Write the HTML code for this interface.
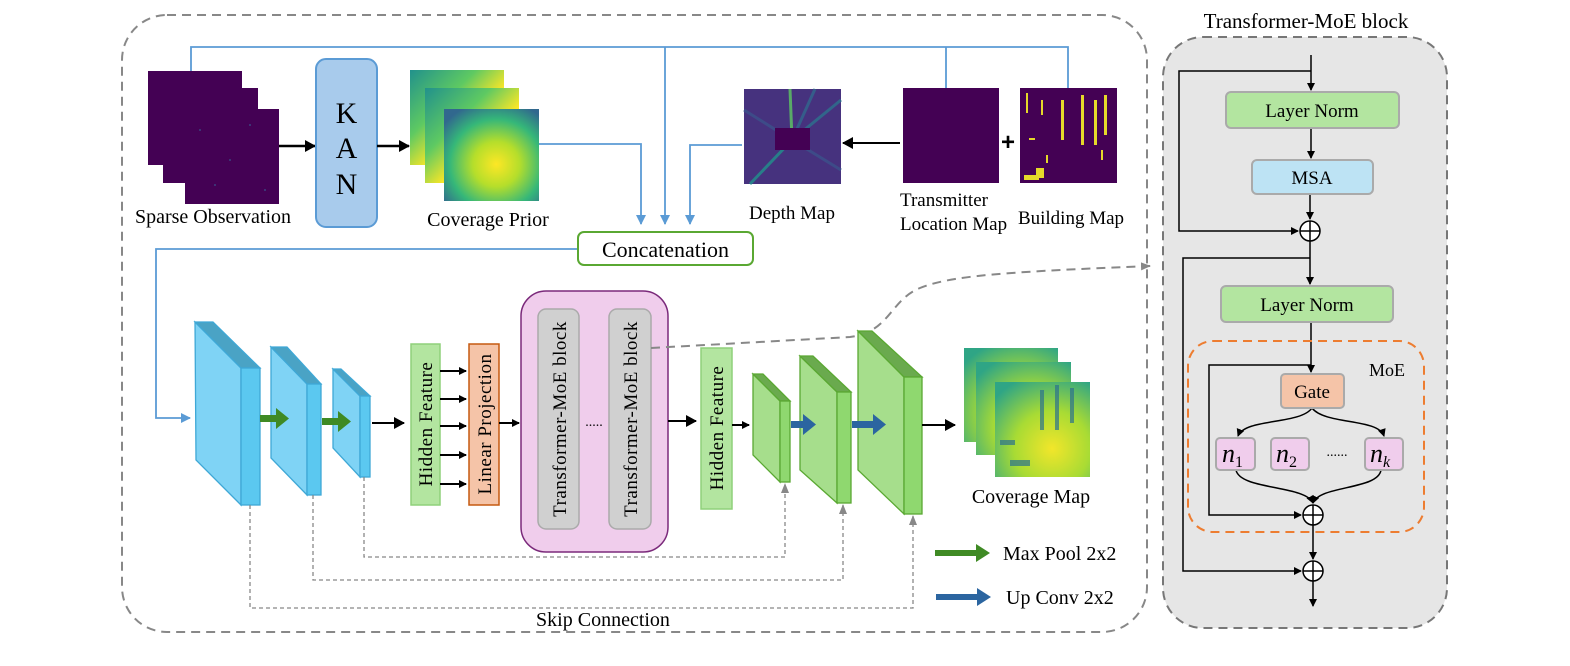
<!DOCTYPE html>
<html><head><meta charset="utf-8"><style>
html,body{margin:0;padding:0;background:#fff;}
svg{display:block;font-family:"Liberation Serif",serif;}
</style></head><body>
<svg width="1570" height="666" viewBox="0 0 1570 666" xmlns="http://www.w3.org/2000/svg">
<defs>
<marker id="ab" markerWidth="8" markerHeight="8" refX="7" refY="4" orient="auto" markerUnits="userSpaceOnUse"><path d="M0,0 L8,4 L0,8 z" fill="#000"/></marker>
<marker id="abb" markerWidth="12" markerHeight="12" refX="10" refY="6" orient="auto" markerUnits="userSpaceOnUse"><path d="M0,0 L11,6 L0,12 z" fill="#000"/></marker>
<marker id="au" markerWidth="10" markerHeight="10" refX="9" refY="5" orient="auto" markerUnits="userSpaceOnUse"><path d="M0,0 L10,5 L0,10 z" fill="#5b9bd5"/></marker>
<marker id="ag" markerWidth="10" markerHeight="10" refX="9" refY="5" orient="auto" markerUnits="userSpaceOnUse"><path d="M0,1 L10,5 L0,9 z" fill="#888"/></marker>
<linearGradient id="cov" x1="0" y1="0" x2="1" y2="1">
<stop offset="0" stop-color="#21918c"/><stop offset="0.35" stop-color="#5ec962"/><stop offset="0.6" stop-color="#fde725"/><stop offset="0.85" stop-color="#7ad151"/><stop offset="1" stop-color="#3b528b"/></linearGradient>
<radialGradient id="cov2" cx="0.55" cy="0.6" r="0.7"><stop offset="0" stop-color="#fde725"/><stop offset="0.35" stop-color="#b5de2b"/><stop offset="0.7" stop-color="#35b779"/><stop offset="1" stop-color="#31688e"/></radialGradient>
<radialGradient id="cm" cx="0.6" cy="0.7" r="0.8"><stop offset="0" stop-color="#f2e62a"/><stop offset="0.5" stop-color="#a8db34"/><stop offset="1" stop-color="#2fa585"/></radialGradient>
</defs>

<rect x="122" y="15" width="1025" height="617" rx="45" fill="none" stroke="#888" stroke-width="2" stroke-dasharray="9,6"/>
<rect x="1163" y="37" width="284" height="591" rx="40" fill="#e6e6e6" stroke="#777" stroke-width="2" stroke-dasharray="9,6"/>
<text x="1306" y="28" font-size="21" text-anchor="middle">Transformer-MoE block</text>

<g stroke="#5b9bd5" stroke-width="1.8" fill="none">
<path d="M191,71 V47 H1068 V88"/>
<path d="M946,47 V88"/>
<path d="M665,47 V224" marker-end="url(#au)"/>
<path d="M539,144 H641 V224" marker-end="url(#au)"/>
<path d="M742,145 H690 V224" marker-end="url(#au)"/>
<path d="M578,249 H156 V418 H190" marker-end="url(#au)"/>
</g>

<rect x="148" y="71" width="94" height="94" fill="#440154"/>
<rect x="163" y="88" width="95" height="95" fill="#440154"/>
<rect x="185" y="109" width="94" height="95" fill="#440154"/>
<g fill="#3b528b" opacity="0.8"><circle cx="200" cy="130" r="1"/><circle cx="230" cy="160" r="1"/><circle cx="250" cy="125" r="1"/><circle cx="215" cy="185" r="1"/><circle cx="265" cy="190" r="1"/></g>
<text x="213" y="223" font-size="20" text-anchor="middle">Sparse Observation</text>
<line x1="279" y1="146" x2="315" y2="146" stroke="#000" stroke-width="2.5" marker-end="url(#abb)"/>
<rect x="316" y="59" width="61" height="168" rx="10" fill="#a8cbec" stroke="#5b9bd5" stroke-width="2"/>
<text x="346.5" y="123" font-size="30" text-anchor="middle">K</text>
<text x="346.5" y="158" font-size="30" text-anchor="middle">A</text>
<text x="346.5" y="194" font-size="30" text-anchor="middle">N</text>
<line x1="377" y1="146" x2="409" y2="146" stroke="#000" stroke-width="2.5" marker-end="url(#abb)"/>
<rect x="410" y="70" width="94" height="95" fill="url(#cov)"/>
<rect x="425" y="88" width="94" height="95" fill="url(#cov)"/>
<rect x="444" y="109" width="95" height="92" fill="url(#cov2)"/>
<text x="488" y="226" font-size="20" text-anchor="middle">Coverage Prior</text>

<rect x="744" y="89" width="97" height="95" fill="#46327e"/>
<g stroke-width="3" opacity="0.8">
<line x1="792" y1="140" x2="790" y2="89" stroke="#5ec962"/><line x1="792" y1="140" x2="744" y2="110" stroke="#3b528b"/>
<line x1="792" y1="140" x2="841" y2="100" stroke="#2c728e"/><line x1="792" y1="140" x2="750" y2="184" stroke="#21918c"/>
<line x1="792" y1="140" x2="841" y2="170" stroke="#3b528b"/><line x1="792" y1="140" x2="815" y2="89" stroke="#31688e"/>
</g>
<rect x="775" y="128" width="35" height="22" fill="#440154"/>
<text x="792" y="219" font-size="19" text-anchor="middle">Depth Map</text>
<line x1="900" y1="143" x2="843" y2="143" stroke="#000" stroke-width="2" marker-end="url(#abb)"/>
<rect x="903" y="88" width="96" height="95" fill="#440154"/>
<text x="1008" y="150" font-size="24" font-weight="bold" text-anchor="middle" font-family="Liberation Sans,sans-serif">+</text>
<rect x="1020" y="88" width="97" height="95" fill="#440154"/>
<g fill="#e5d82a">
<rect x="1061" y="100" width="3" height="40"/><rect x="1081" y="95" width="3" height="50"/><rect x="1094" y="100" width="3" height="45"/><rect x="1104" y="95" width="3" height="40"/><rect x="1026" y="93" width="2" height="20"/><rect x="1041" y="100" width="2" height="15"/><rect x="1024" y="175" width="15" height="5"/><rect x="1036" y="168" width="8" height="10"/><rect x="1046" y="155" width="2" height="8"/><rect x="1101" y="150" width="2" height="10"/><rect x="1029" y="138" width="6" height="2"/>
</g>
<text x="900" y="206" font-size="19">Transmitter</text>
<text x="900" y="230" font-size="19">Location Map</text>
<text x="1071" y="224" font-size="19" text-anchor="middle">Building Map</text>

<rect x="578" y="232" width="175" height="33" rx="6" fill="#fff" stroke="#5aa832" stroke-width="2"/>
<text x="665.5" y="257" font-size="22" text-anchor="middle">Concatenation</text>

<g stroke="#3fa8d6" stroke-width="1.3">
<polygon points="195,322 241,368 241,505 196,460" fill="#7fd3f5"/>
<polygon points="195,322 213,322 260,368 241,368" fill="#4aa3c5"/>
<rect x="241" y="368" width="19" height="137" fill="#5bc8f0"/>
<polygon points="271,347 307,384 307,495 271,458" fill="#7fd3f5"/>
<polygon points="271,347 287,347 321,384 307,384" fill="#4aa3c5"/>
<rect x="307" y="384" width="14" height="111" fill="#5bc8f0"/>
<polygon points="333,369 360,396 360,477 333,448" fill="#7fd3f5"/>
<polygon points="333,369 341,369 370,396 360,396" fill="#4aa3c5"/>
<rect x="360" y="396" width="10" height="81" fill="#5bc8f0"/>
</g>
<g fill="#3f8a24"><rect x="260" y="415" width="16" height="7"/><polygon points="276,408 289,418.5 276,429"/>
<rect x="322" y="418" width="16" height="7"/><polygon points="338,411 351,421.5 338,432"/></g>
<line x1="372" y1="423" x2="404" y2="423" stroke="#000" stroke-width="2" marker-end="url(#abb)"/>
<rect x="411" y="344" width="29" height="161" fill="#b3e5a0" stroke="#8fd07a" stroke-width="1.5"/>
<text transform="translate(432,424) rotate(-90)" font-size="19" text-anchor="middle" letter-spacing="0.5">Hidden Feature</text>
<g stroke="#000" stroke-width="2">
<line x1="440" y1="371" x2="466" y2="371" marker-end="url(#ab)"/>
<line x1="440" y1="399" x2="466" y2="399" marker-end="url(#ab)"/>
<line x1="440" y1="426" x2="466" y2="426" marker-end="url(#ab)"/>
<line x1="440" y1="455" x2="466" y2="455" marker-end="url(#ab)"/>
<line x1="440" y1="484" x2="466" y2="484" marker-end="url(#ab)"/>
</g>
<rect x="469" y="344" width="30" height="161" fill="#f5c4a8" stroke="#c55a11" stroke-width="1.5"/>
<text transform="translate(491,424) rotate(-90)" font-size="19" text-anchor="middle" letter-spacing="0.5">Linear Projection</text>
<line x1="499" y1="423" x2="519" y2="423" stroke="#000" stroke-width="2" marker-end="url(#ab)"/>
<rect x="521" y="291" width="147" height="261" rx="25" fill="#f0cdec" stroke="#7b2a7b" stroke-width="1.5"/>
<rect x="538" y="309" width="41" height="220" rx="8" fill="#d0d0d0" stroke="#aaa" stroke-width="1.5"/>
<rect x="609" y="309" width="42" height="220" rx="8" fill="#d0d0d0" stroke="#aaa" stroke-width="1.5"/>
<text transform="translate(566,419) rotate(-90)" font-size="19" text-anchor="middle" letter-spacing="0.5">Transformer-MoE block</text>
<text transform="translate(637,419) rotate(-90)" font-size="19" text-anchor="middle" letter-spacing="0.5">Transformer-MoE block</text>
<text x="594" y="426" font-size="14" text-anchor="middle">.....</text>
<path d="M651,348 L850,337 C890,332 890,300 920,288 C950,276 1000,272 1150,266" fill="none" stroke="#888" stroke-width="2" stroke-dasharray="9,6" marker-end="url(#ag)"/>
<line x1="668" y1="421" x2="696" y2="421" stroke="#000" stroke-width="2" marker-end="url(#abb)"/>
<rect x="701" y="348" width="31" height="161" fill="#b3e5a0" stroke="#8fd07a" stroke-width="1.5"/>
<text transform="translate(723,428) rotate(-90)" font-size="19" text-anchor="middle" letter-spacing="0.5">Hidden Feature</text>
<line x1="732" y1="425" x2="749" y2="425" stroke="#000" stroke-width="2" marker-end="url(#ab)"/>
<g stroke="#5aa832" stroke-width="1.3">
<polygon points="753,374 780,401 780,482 753,455" fill="#a6de8c"/>
<polygon points="753,374 763,374 790,401 780,401" fill="#6aaa4e"/>
<rect x="780" y="401" width="10" height="81" fill="#8fd86f"/>
<polygon points="800,356 837,392 837,503 800,470" fill="#a6de8c"/>
<polygon points="800,356 813,356 851,392 837,392" fill="#6aaa4e"/>
<rect x="837" y="392" width="14" height="111" fill="#8fd86f"/>
<polygon points="858,331 904,377 904,514 858,470" fill="#a6de8c"/>
<polygon points="858,331 872,331 922,377 904,377" fill="#6aaa4e"/>
<rect x="904" y="377" width="18" height="137" fill="#8fd86f"/>
</g>
<g fill="#2b65a0"><rect x="791" y="421" width="13" height="7"/><polygon points="803,414 816,424.5 803,435"/>
<rect x="852" y="421" width="22" height="7"/><polygon points="873,414 886,424.5 873,435"/></g>
<line x1="922" y1="425" x2="955" y2="425" stroke="#000" stroke-width="2" marker-end="url(#abb)"/>
<rect x="964" y="348" width="94" height="94" fill="url(#cm)"/>
<rect x="976" y="362" width="95" height="93" fill="url(#cm)"/>
<rect x="995" y="382" width="95" height="95" fill="url(#cm)"/>
<g fill="#2c728e" opacity="0.7"><rect x="1040" y="390" width="4" height="40"/><rect x="1055" y="385" width="4" height="45"/><rect x="1070" y="388" width="4" height="35"/><rect x="1000" y="440" width="15" height="5"/><rect x="1010" y="460" width="20" height="6"/></g>
<text x="1031" y="503" font-size="20" text-anchor="middle">Coverage Map</text>
<g stroke="#888" stroke-width="1.3" fill="none" stroke-dasharray="4,3">
<path d="M364,477 V557 H785 V484" marker-end="url(#ag)"/>
<path d="M313,495 V580 H843 V505" marker-end="url(#ag)"/>
<path d="M250,505 V608 H913 V516" marker-end="url(#ag)"/>
</g>
<text x="603" y="626" font-size="20" text-anchor="middle">Skip Connection</text>
<rect x="935" y="550" width="42" height="6" fill="#3f8a24"/><polygon points="976,544 990,553 976,562" fill="#3f8a24"/>
<text x="1003" y="560" font-size="20">Max Pool 2x2</text>
<rect x="936" y="594" width="42" height="6" fill="#2b65a0"/><polygon points="977,588 991,597 977,606" fill="#2b65a0"/>
<text x="1006" y="604" font-size="20">Up Conv 2x2</text>

<g stroke="#000" stroke-width="1.5" fill="none">
<line x1="1311" y1="55" x2="1311" y2="90" marker-end="url(#ab)"/>
<path d="M1311,71 H1179 V231 H1298" marker-end="url(#ab)"/>
<line x1="1311" y1="128" x2="1311" y2="158" marker-end="url(#ab)"/>
<line x1="1310" y1="194" x2="1310" y2="219" marker-end="url(#ab)"/>
<line x1="1310" y1="241" x2="1310" y2="284" marker-end="url(#ab)"/>
<path d="M1310,258 H1183 V571 H1301" marker-end="url(#ab)"/>
<line x1="1311" y1="322" x2="1311" y2="372" marker-end="url(#ab)"/>
<path d="M1311,365 H1209 V515 H1301" marker-end="url(#ab)"/>
<path d="M1312,408 C1300,425 1245,418 1238,436" marker-end="url(#ab)"/>
<path d="M1312,408 C1325,425 1378,418 1384,436" marker-end="url(#ab)"/>
<path d="M1236,470 C1240,490 1305,485 1313,503" marker-end="url(#ab)"/>
<path d="M1381,470 C1378,490 1320,485 1313,503" marker-end="url(#ab)"/>
<line x1="1313" y1="525" x2="1313" y2="559" marker-end="url(#ab)"/>
<line x1="1313" y1="581" x2="1313" y2="606" marker-end="url(#ab)"/>
</g>
<rect x="1226" y="92" width="173" height="36" rx="5" fill="#b3e5a0" stroke="#aaa" stroke-width="2"/>
<text x="1312" y="117" font-size="19" text-anchor="middle">Layer Norm</text>
<rect x="1252" y="160" width="121" height="34" rx="5" fill="#bde3f4" stroke="#aaa" stroke-width="2"/>
<text x="1312" y="184" font-size="19" text-anchor="middle">MSA</text>
<rect x="1221" y="286" width="172" height="36" rx="5" fill="#b3e5a0" stroke="#aaa" stroke-width="2"/>
<text x="1307" y="311" font-size="19" text-anchor="middle">Layer Norm</text>
<rect x="1188" y="341" width="236" height="191" rx="25" fill="none" stroke="#ed7d31" stroke-width="2" stroke-dasharray="9,6"/>
<text x="1387" y="376" font-size="18" text-anchor="middle">MoE</text>
<rect x="1281" y="374" width="63" height="34" rx="4" fill="#f5c4a8" stroke="#aaa" stroke-width="2"/>
<text x="1312" y="398" font-size="19" text-anchor="middle">Gate</text>
<rect x="1216" y="438" width="39" height="32" rx="4" fill="#f0cdec" stroke="#aaa" stroke-width="2"/>
<rect x="1271" y="438" width="38" height="32" rx="4" fill="#f0cdec" stroke="#aaa" stroke-width="2"/>
<rect x="1365" y="438" width="38" height="32" rx="4" fill="#f0cdec" stroke="#aaa" stroke-width="2"/>
<text x="1222" y="462" font-size="26" font-style="italic">n<tspan font-size="16" font-style="normal" dy="5">1</tspan></text>
<text x="1276" y="462" font-size="26" font-style="italic">n<tspan font-size="16" font-style="normal" dy="5">2</tspan></text>
<text x="1370" y="462" font-size="26" font-style="italic">n<tspan font-size="16" dy="5">k</tspan></text>
<text x="1337" y="456" font-size="14" text-anchor="middle">......</text>
<g fill="#fff" stroke="#000" stroke-width="1.5">
<circle cx="1310" cy="231" r="10"/><circle cx="1313" cy="515" r="10"/><circle cx="1313" cy="571" r="10"/>
</g>
<g stroke="#000" stroke-width="1.5">
<path d="M1300,231 H1320 M1310,221 V241"/><path d="M1303,515 H1323 M1313,505 V525"/><path d="M1303,571 H1323 M1313,561 V581"/>
</g>
</svg>
</body></html>
